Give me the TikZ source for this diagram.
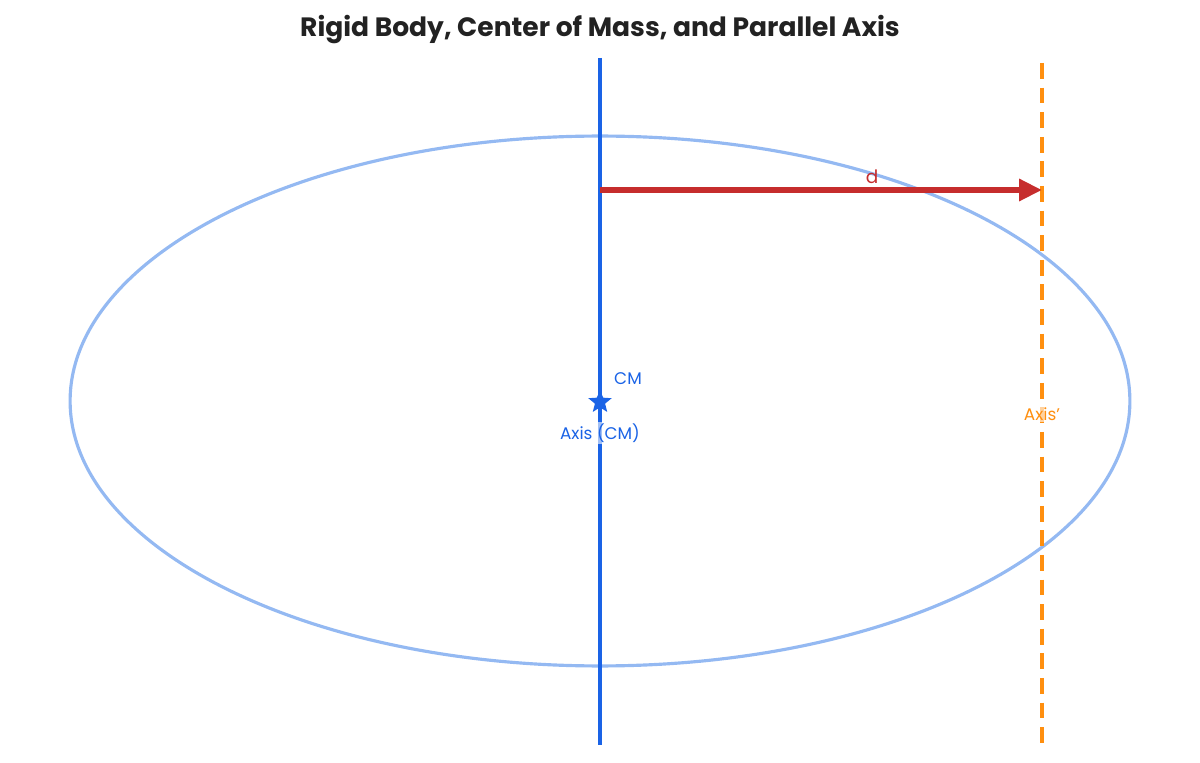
\documentclass[tikz,border=0pt]{standalone}
\usepackage{fontspec}
\setmainfont{Poppins}
\usepackage{tikz}
\usetikzlibrary{arrows.meta,shapes.geometric}

\definecolor{bodyblue}{HTML}{94B9F2}
\definecolor{axisblue}{HTML}{1A63E6}
\definecolor{axisorange}{HTML}{FF8F0F}
\definecolor{arrowred}{HTML}{C62D2D}
\definecolor{titlegray}{HTML}{222222}

\begin{document}
\begin{tikzpicture}[x=0.02cm, y=-0.02cm,
    body/.style ={draw=bodyblue, line width=1.8pt},
    cmaxis/.style ={draw=axisblue, line width=2.5pt},
    paraxis/.style ={draw=axisorange, line width=2.5pt, dash pattern=on 9pt off 5pt},
    darrow/.style ={draw=arrowred, line width=3.2pt, -{Triangle[length=13pt, width=12pt]}},
    textlabel/.style ={font=\fontsize{9.6}{11}\selectfont, inner sep=1pt},
    axislabel/.style ={textlabel, fill=white, fill opacity=0.6, text opacity=1}]
   \useasboundingbox (0,0) rectangle (1200,763);

   \node[font=\fontsize{15.1}{18}\selectfont\bfseries, text=titlegray] (title) at (600,30) {Rigid Body, Center of Mass, and Parallel Axis};

   \draw[body] (600,401) ellipse [x radius=10.6cm, y radius=5.3cm];

   \coordinate (cmtop) at (600,58);
   \coordinate (cmbot) at (600,745);
   \coordinate (partop) at (1042,63);
   \coordinate (parbot) at (1042,745);
   \coordinate (dstart) at (600,190);
   \coordinate (dend) at (1042,190);

   \draw[cmaxis] (cmtop) to (cmbot);
   \draw[paraxis] (partop) to (parbot);
   \draw[darrow] (dstart) to (dend);

   \node[star, star points=5, star point ratio=2.3, fill=axisblue, inner sep=0pt, minimum size=14pt] (cm) at (600,402) {};
   \node[textlabel, text=axisblue] (cmlabel) at (628,379) {CM};
   \node[axislabel, text=axisblue] (cmaxislabel) at (600,433) {Axis (CM)};
   \node[axislabel, text=axisorange] (paraxislabel) at (1042,414) {Axis\symbol{"27}};
   \node[textlabel, font=\fontsize{10.5}{12}\selectfont, text=arrowred] (dlabel) at (872,177) {d};
 \end{tikzpicture}
\end{document}
